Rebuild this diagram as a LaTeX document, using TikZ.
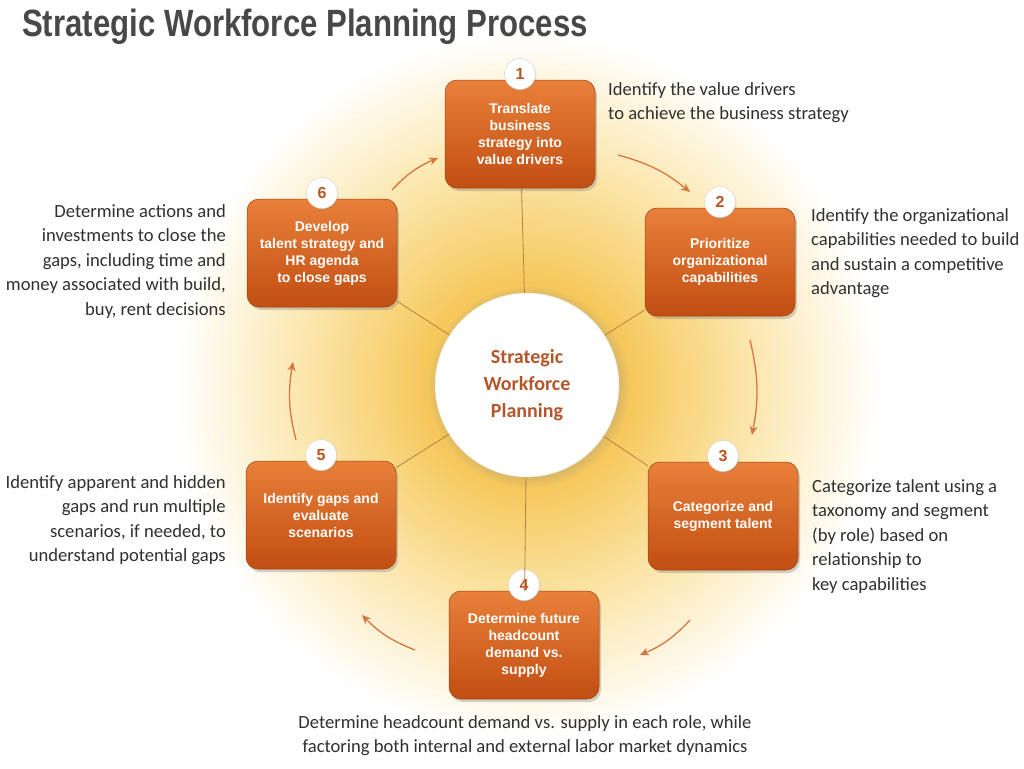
\documentclass[tikz,border=0pt]{standalone}
\usepackage{fontspec}
\setmainfont{Carlito}
\newfontfamily\headfont{Liberation Sans}
\usepackage{tikz}
\usetikzlibrary{positioning,arrows.meta,shadows}

\definecolor{boxtop}{RGB}{232,128,58}
\definecolor{boxbot}{RGB}{194,78,18}
\definecolor{numcol}{RGB}{188,84,30}
\definecolor{hubtext}{RGB}{180,86,44}
\definecolor{spokecol}{RGB}{188,128,68}
\definecolor{arrowcol}{RGB}{214,118,62}
\definecolor{desccol}{RGB}{48,48,48}
\definecolor{titlecol}{RGB}{72,72,72}
\definecolor{glowin}{RGB}{246,200,92}
\definecolor{glowmid}{RGB}{251,230,172}

\pgfdeclareradialshading{sunglow}{\pgfpoint{0bp}{0bp}}{color(0bp)=(glowin); color(6.5bp)=(glowin); color(14bp)=(glowmid); color(22bp)=(white); color(50bp)=(white)}

\tikzset{
  stepbox/.style={rectangle, rounded corners=12pt, minimum width=150, minimum height=108,
    top color=boxtop, bottom color=boxbot, draw=boxbot!80!black, line width=0.5pt,
    text=white, align=center, inner sep=2pt,
    font=\headfont\bfseries\fontsize{14}{17}\selectfont,
    drop shadow={opacity=0.35, shadow xshift=2pt, shadow yshift=-3pt}},
  numdot/.style={circle, fill=white, draw=gray!35, minimum size=31, inner sep=0pt,
    text=numcol, font=\headfont\bfseries\fontsize{16}{16}\selectfont,
    drop shadow={opacity=0.2, shadow xshift=1pt, shadow yshift=-1pt}},
  hub/.style={circle, fill=white, draw=gray!25, minimum size=184, inner sep=0pt,
    text=hubtext, align=center, font=\bfseries\fontsize{20}{27}\selectfont,
    circular drop shadow={opacity=0.3}},
  desc/.style={inner sep=0pt, text=desccol, font=\fontsize{18.6}{24.6}\selectfont},
  spoke/.style={draw=spokecol, line width=0.8pt},
  cycarrow/.style={draw=arrowcol, line width=1.3pt, -{Stealth[length=9pt,width=8pt]}}
}

\begin{document}
\begin{tikzpicture}[x=1pt, y=-1pt]
\useasboundingbox[fill=white] (0,0) rectangle (1024,768);

% glow behind the cycle
\fill[shading=sunglow] (127,-15) rectangle (927,785);

\node[anchor=base west, text=titlecol, inner sep=0pt, font=\headfont\bfseries\fontsize{38}{38}\selectfont] (title) at (22,37) {\scalebox{0.82}[1]{Strategic Workforce Planning Process}};

% centre and steps
\node[hub] (hub) at (527,385) {Strategic\\Workforce\\Planning};

\node[stepbox] (b1) at (520,134) {Translate\\business\\strategy into\\value drivers};
\node[stepbox] (b2) at (720,262) {Prioritize\\organizational\\capabilities};
\node[stepbox] (b3) at (723,516) {Categorize and\\segment talent};
\node[stepbox] (b4) at (524,645) {Determine future\\headcount\\demand vs.\\supply};
\node[stepbox] (b5) at (321,515) {Identify gaps and\\evaluate\\scenarios};
\node[stepbox] (b6) at (322,253) {Develop\\talent strategy and\\HR agenda\\to close gaps};

\foreach \i in {1,...,6}{
  \node[numdot, above=-10pt of b\i] (n\i) {\i};
  \draw[spoke] (hub) -- (b\i);
}

% arrows round the cycle
\coordinate (a61) at (392,190); \coordinate (e61) at (438,158);
\coordinate (a12) at (618,155); \coordinate (e12) at (690,192);
\coordinate (a23) at (750,340); \coordinate (e23) at (752,435);
\coordinate (a34) at (690,620); \coordinate (e34) at (640,655);
\coordinate (a45) at (415,650); \coordinate (e45) at (362,615);
\coordinate (a56) at (296,440); \coordinate (e56) at (293,362);

\draw[cycarrow] (a61) to[bend left=12] (e61);
\draw[cycarrow] (a12) to[bend left=12] (e12);
\draw[cycarrow] (a23) to[bend left=12] (e23);
\draw[cycarrow] (a34) to[bend left=12] (e34);
\draw[cycarrow] (a45) to[bend left=12] (e45);
\draw[cycarrow] (a56) to[bend left=12] (e56);

% descriptions
\node[desc, anchor=north west, align=left] (d1) at (608,82) {Identify the value drivers\\to achieve the business strategy};
\node[desc, anchor=north west, align=left] (d2) at (811,208) {Identify the organizational\\capabilities needed to build\\and sustain a competitive\\advantage};
\node[desc, anchor=north west, align=left] (d3) at (812,479) {Categorize talent using a\\taxonomy and segment\\(by role) based on\\relationship to\\key capabilities};
\node[desc, anchor=north, align=center] (d4) at (525,715) {Determine headcount demand vs. supply in each role, while\\factoring both internal and external labor market dynamics};
\node[desc, anchor=north east, align=right] (d5) at (226,475) {Identify apparent and hidden\\gaps and run multiple\\scenarios, if needed, to\\understand potential gaps};
\node[desc, anchor=north east, align=right] (d6) at (226,204) {Determine actions and\\investments to close the\\gaps, including time and\\money associated with build,\\buy, rent decisions};
\end{tikzpicture}
\end{document}
